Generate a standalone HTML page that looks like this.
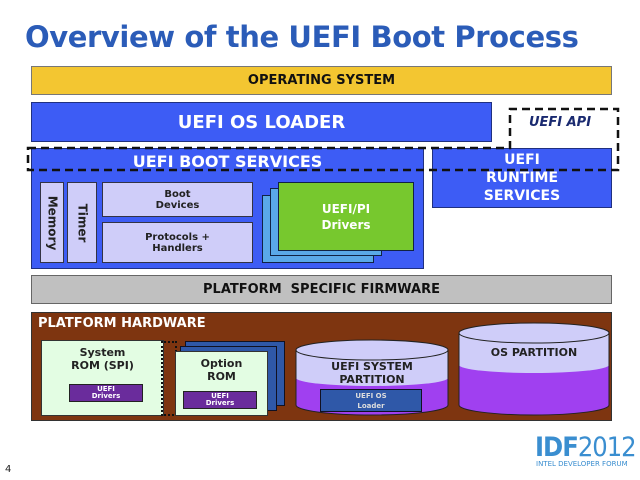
<!DOCTYPE html>
<html><head><style>
body{margin:0;width:640px;height:480px;background:#fff;position:relative;overflow:hidden;font-family:"DejaVu Sans","Liberation Sans",sans-serif;}
div{position:absolute;box-sizing:border-box;}
.c{display:flex;align-items:center;justify-content:center;text-align:center;font-weight:bold;}
.blue{background:#3d5cf5;border:1px solid #203080;color:#fff;}
.lav{background:#cfcdf9;border:1px solid #334;color:#222;font-size:10px;}
</style></head><body>
<div style="left:25px;top:20px;font-size:29px;font-weight:bold;color:#2b5cb8;font-family:'DejaVu Sans',sans-serif;letter-spacing:-0.4px">Overview of the UEFI Boot Process</div>
<div class="c" style="left:31px;top:66px;width:581px;height:29px;background:#f3c631;border:1px solid #777;font-size:13px;color:#111">OPERATING SYSTEM</div>
<div class="c blue" style="left:31px;top:102px;width:461px;height:40px;font-size:18px">UEFI OS LOADER</div>
<div class="blue" style="left:31px;top:148px;width:393px;height:121px"></div>
<div class="c" style="left:31px;top:150px;width:393px;height:22px;color:#fff;font-size:16px">UEFI BOOT SERVICES</div>
<div class="c blue" style="left:432px;top:148px;width:180px;height:60px;font-size:14px;line-height:18px">UEFI<br>RUNTIME<br>SERVICES</div>
<div class="c" style="left:505px;top:112px;width:110px;height:20px;font-style:italic;color:#1a2a70;font-size:13px">UEFI API</div>
<svg style="position:absolute;left:0;top:0" width="640" height="480">
<path d="M28 148 H510 V109 H618 V170 H28 Z" fill="none" stroke="#111" stroke-width="2.5" stroke-dasharray="8,5"/>
</svg>
<div class="c lav" style="left:40px;top:182px;width:24px;height:81px;font-size:12px"><span style="transform:rotate(90deg);display:block;white-space:nowrap">Memory</span></div>
<div class="c lav" style="left:67px;top:182px;width:30px;height:81px;font-size:12px"><span style="transform:rotate(90deg);display:block;white-space:nowrap">Timer</span></div>
<div class="c lav" style="left:102px;top:182px;width:151px;height:35px">Boot<br>Devices</div>
<div class="c lav" style="left:102px;top:222px;width:151px;height:41px">Protocols +<br>Handlers</div>
<div style="left:262px;top:195px;width:112px;height:68px;background:#5aa8e8;border:1px solid #124"></div>
<div style="left:270px;top:188px;width:112px;height:68px;background:#5aa8e8;border:1px solid #124"></div>
<div class="c" style="left:278px;top:182px;width:136px;height:69px;background:#77c82e;border:1px solid #124;color:#fff;font-size:12px;line-height:16px">UEFI/PI<br>Drivers</div>
<div class="c" style="left:31px;top:275px;width:581px;height:29px;background:#c0c0c0;border:1px solid #666;font-size:13px;color:#111">PLATFORM &nbsp;SPECIFIC FIRMWARE</div>
<div style="left:31px;top:312px;width:581px;height:109px;background:#7e3510;border:1px solid #333"></div>
<div style="left:38px;top:316px;color:#fff;font-weight:bold;font-size:13px">PLATFORM HARDWARE</div>
<div style="left:41px;top:340px;width:123px;height:76px;background:#e3fde3;border:1px solid #333"></div>
<div class="c" style="left:41px;top:344px;width:123px;height:30px;font-size:11px;color:#222">System<br>ROM (SPI)</div>
<div class="c" style="left:69px;top:384px;width:74px;height:18px;background:#6a2c9c;border:1px solid #222;color:#fff;font-size:7px;line-height:7px">UEFI<br>Drivers</div>
<div style="left:161px;top:341px;width:16px;height:75px;border:2px dotted #111"></div>
<div style="left:185px;top:341px;width:100px;height:65px;background:#2f58a8;border:1px solid #112"></div>
<div style="left:180px;top:346px;width:97px;height:65px;background:#2f58a8;border:1px solid #112"></div>
<div style="left:175px;top:351px;width:93px;height:65px;background:#e3fde3;border:1px solid #333"></div>
<div class="c" style="left:175px;top:355px;width:93px;height:30px;font-size:11px;color:#222">Option<br>ROM</div>
<div class="c" style="left:183px;top:391px;width:74px;height:18px;background:#6a2c9c;border:1px solid #222;color:#fff;font-size:7px;line-height:7px">UEFI<br>Drivers</div>
<svg style="position:absolute;left:0;top:0" width="640" height="480">
<path d="M296 350 V405 A76 10 0 0 0 448 405 V350" fill="#a040f0" stroke="#222"/>
<path d="M296 350 V378 A76 8 0 0 0 448 378 V350" fill="#cfcdf9"/>
<ellipse cx="372" cy="350" rx="76" ry="10" fill="#cfcdf9" stroke="#222"/>
<path d="M296 350 V405 M448 350 V405" stroke="#222"/>
<path d="M459 333 V405 A75 10 0 0 0 609 405 V333" fill="#a040f0" stroke="#222"/>
<path d="M459 333 V365 A75 8 0 0 0 609 365 V333" fill="#cfcdf9"/>
<ellipse cx="534" cy="333" rx="75" ry="10" fill="#cfcdf9" stroke="#222"/>
<path d="M459 333 V405 M609 333 V405" stroke="#222"/>
</svg>
<div class="c" style="left:296px;top:360px;width:152px;height:26px;font-size:11px;color:#222">UEFI SYSTEM<br>PARTITION</div>
<div class="c" style="left:320px;top:389px;width:102px;height:23px;background:#2f58a8;border:1px solid #112;color:#ddd;font-size:7px;line-height:10px">UEFI OS<br>Loader</div>
<div class="c" style="left:459px;top:344px;width:150px;height:16px;font-size:11px;color:#222">OS PARTITION</div>
<div style="left:535px;top:432px;font-size:27px;color:#3a8ed0;font-family:'DejaVu Sans Condensed','DejaVu Sans',sans-serif;letter-spacing:-1px"><b>IDF</b>2012</div>
<div style="left:536px;top:460px;font-size:7px;color:#3a8ed0">INTEL DEVELOPER FORUM</div>
<div style="left:5px;top:464px;font-size:10px;color:#222">4</div>
</body></html>
